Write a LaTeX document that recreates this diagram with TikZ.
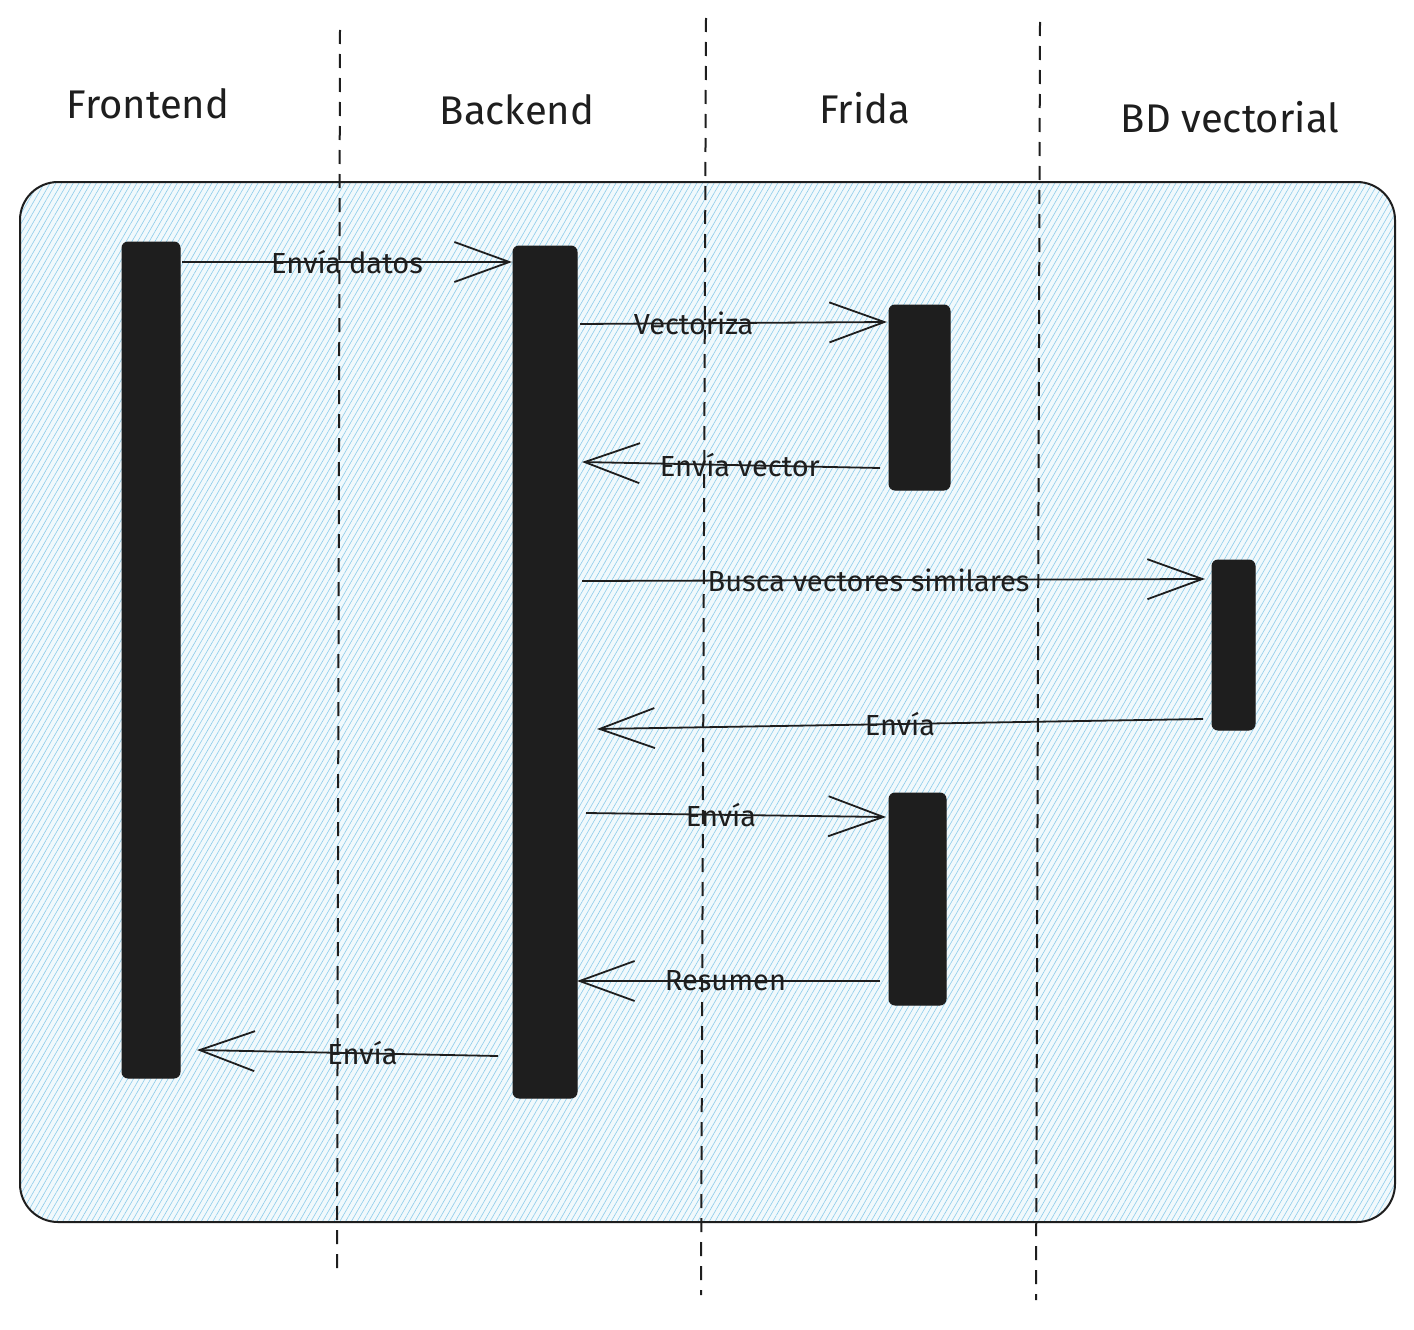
\documentclass[tikz,border=0pt]{standalone}
\usepackage{fontspec}
\setmainfont{Fira Sans}
\usetikzlibrary{arrows.meta,patterns.meta}
\definecolor{hatch}{HTML}{8CCBEA}
\definecolor{bar}{HTML}{1E1E1E}
\begin{document}
\begin{tikzpicture}[x=1pt,y=-1pt,
  bar/.style={draw=bar,fill=bar,rounded corners=6pt,line width=1pt},
  msg/.style={line width=1.8pt,draw=bar,-{Straight Barb[length=55pt,width=40pt,line width=1.8pt]}},
  lbl/.style={font=\fontsize{29}{29}\selectfont,text=bar,inner sep=1pt},
  head/.style={font=\fontsize{40}{40}\selectfont,text=bar},
  lane/.style={line width=2pt,dash pattern=on 14pt off 10pt,draw=bar}]
\useasboundingbox (0,0) rectangle (1414,1330);
\fill[white] (0,0) rectangle (1414,1330);
\path[fill=hatch!12,rounded corners=38pt] (20,182) rectangle (1395,1222);
\path[pattern={Lines[angle=60,distance=5pt,line width=0.6pt]},pattern color=hatch,rounded corners=38pt] (20,182) rectangle (1395,1222);
\draw[line width=2pt,draw=bar,rounded corners=38pt] (20,182) rectangle (1395,1222);
\draw[lane] (340,30) -- (337,1275);
\draw[lane] (706,18) -- (701,1295);
\draw[lane] (1040,22) -- (1036,1300);
\node[head] (h1) at (148,104) {Frontend};
\node[head] (h2) at (517,110) {Backend};
\node[head] (h3) at (865,108) {Frida};
\node[head] (h4) at (1230,117) {BD vectorial};
\node[bar,minimum width=58pt,minimum height=836pt,inner sep=0pt] (fe) at (151,660) {};
\node[bar,minimum width=64pt,minimum height=852pt,inner sep=0pt] (be) at (545,672) {};
\node[bar,minimum width=61pt,minimum height=185pt,inner sep=0pt] (fr1) at (919.5,397.5) {};
\node[bar,minimum width=43pt,minimum height=170pt,inner sep=0pt] (bd) at (1233.5,645) {};
\node[bar,minimum width=57pt,minimum height=212pt,inner sep=0pt] (fr2) at (917.5,899) {};
\coordinate (a1s) at (182,262); \coordinate (a1e) at (512,262);
\coordinate (a2s) at (580,324); \coordinate (a2e) at (887,322);
\coordinate (a3s) at (880,468); \coordinate (a3e) at (582,462);
\coordinate (a4s) at (582,581); \coordinate (a4e) at (1205,579);
\coordinate (a5s) at (1203,719); \coordinate (a5e) at (597,729);
\coordinate (a6s) at (586,813); \coordinate (a6e) at (886,817);
\coordinate (a7s) at (880,981); \coordinate (a7e) at (577,981);
\coordinate (a8s) at (498,1056); \coordinate (a8e) at (197,1050);
\draw[msg] (a1s) -- node[lbl,pos=0.5]{Envía datos} (a1e);
\draw[msg] (a2s) -- node[lbl,pos=0.37]{Vectoriza} (a2e);
\draw[msg] (a3s) -- node[lbl,pos=0.47]{Envía vector} (a3e);
\draw[msg] (a4s) -- node[lbl,pos=0.46]{Busca vectores similares} (a4e);
\draw[msg] (a5s) -- node[lbl,pos=0.5]{Envía} (a5e);
\draw[msg] (a6s) -- node[lbl,pos=0.45]{Envía} (a6e);
\draw[msg] (a7s) -- node[lbl,pos=0.51]{Resumen} (a7e);
\draw[msg] (a8s) -- node[lbl,pos=0.45]{Envía} (a8e);
\end{tikzpicture}
\end{document}
